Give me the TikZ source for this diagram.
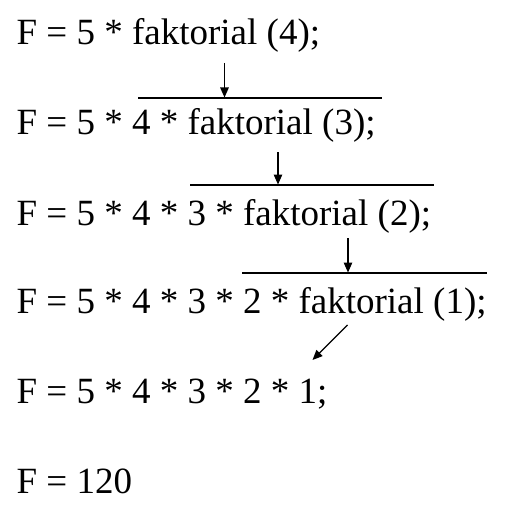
\documentclass[tikz,border=0pt]{standalone}
\usepackage{fontspec}
\newfontfamily\timesfont{Liberation Serif}
\usetikzlibrary{arrows.meta}
\begin{document}
\begin{tikzpicture}[x=1pt,y=-1pt,->,>={Triangle[length=10pt,width=8.5pt]},line width=1.3pt,
main line/.style={anchor=base west,inner sep=0pt,font=\fontsize{37}{44}\selectfont}]
\useasboundingbox (0,0) rectangle (508,524);

\node[main line] (1) at (16,45) {\timesfont F = 5 * faktorial (4);};
\node[main line] (2) at (16,135) {\timesfont F = 5 * 4 * faktorial (3);};
\node[main line] (3) at (16,225) {\timesfont F = 5 * 4 * 3 * faktorial (2);};
\node[main line] (4) at (16,313) {\timesfont F = 5 * 4 * 3 * 2 * faktorial (1);};
\node[main line] (5) at (16,403) {\timesfont F = 5 * 4 * 3 * 2 * 1;};
\node[main line] (6) at (16,493) {\timesfont F = 120};

\coordinate (1a) at (224.5,63);
\coordinate (1b) at (224.5,97.5);
\coordinate (2a) at (278,152);
\coordinate (2b) at (278,184.5);
\coordinate (3a) at (348,238);
\coordinate (3b) at (348,272.5);
\coordinate (4a) at (347.5,325);
\coordinate (4b) at (312.5,360);

\coordinate (1l) at (138,98);
\coordinate (1r) at (382,98);
\coordinate (2l) at (190,185);
\coordinate (2r) at (434,185);
\coordinate (3l) at (242,273);
\coordinate (3r) at (487,273);

\draw[-] (1l) -- (1r);
\draw[-] (2l) -- (2r);
\draw[-] (3l) -- (3r);

\path (1a) edge (1b)
(2a) edge (2b)
(3a) edge (3b)
(4a) edge (4b);
\end{tikzpicture}
\end{document}
